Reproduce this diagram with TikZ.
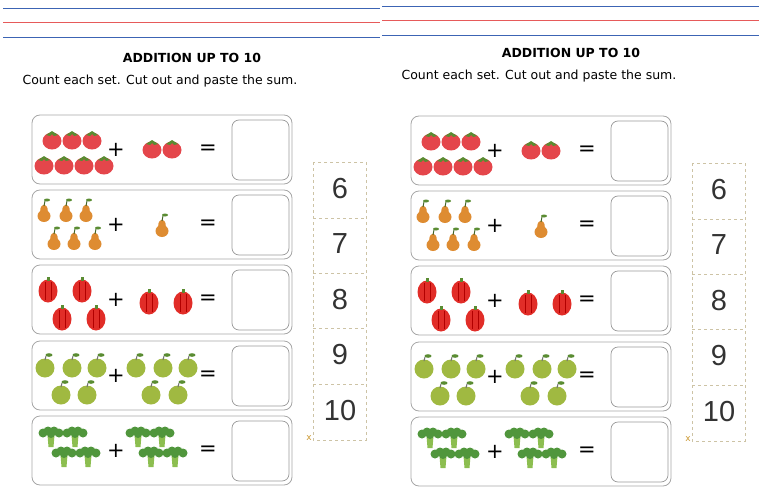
\documentclass[tikz,border=0pt]{standalone}
\usepackage{fontspec}
\setmainfont{DejaVu Sans}
\newfontfamily\numf{Liberation Sans}
\definecolor{lblue}{RGB}{60,100,180}
\definecolor{lred}{RGB}{230,90,90}
\definecolor{tan}{RGB}{205,195,165}
\definecolor{applec}{RGB}{160,185,65}
\definecolor{pearc}{RGB}{222,140,50}
\definecolor{pepc}{RGB}{225,45,40}
\definecolor{tomc}{RGB}{228,70,75}
\definecolor{leaf}{RGB}{90,140,50}
\definecolor{brocc}{RGB}{80,150,60}
\definecolor{stalk}{RGB}{140,190,80}
\begin{document}
\begin{tikzpicture}[x=1pt,y=-1pt,
 rowbox/.style={draw=black!35,line width=0.8pt,rounded corners=8pt},
 ansbox/.style={draw=black!40,line width=0.7pt,rounded corners=7pt},
 sym/.style={font=\fontsize{21}{21}\selectfont},
 num/.style={font=\numf\fontsize{29}{29}\selectfont,text=black!80},
 strip/.style={draw=tan,dashed,line width=0.8pt},
 tomato/.pic={\fill[tomc] (0,0) ellipse (9.5 and 8.5);
   \fill[leaf] (-6,-6) -- (0,-10) -- (6,-6) -- (2,-5) -- (0,-7) -- (-2,-5) -- cycle;},
 pear/.pic={\fill[pearc] (0,4) ellipse (6.5 and 6) (0,-1) ellipse (3.8 and 6.5);
   \draw[leaf!70!black,line width=0.9pt] (0,-6) -- (1,-11); \fill[leaf] (3,-12) ellipse (3 and 1.5);},
 pepper/.pic={\fill[pepc] (0,2) ellipse (9.5 and 11.5);
   \draw[red!70!black,line width=0.4pt] (-3,-7) -- (-3,11) (3,-7) -- (3,11);
   \fill[leaf] (-1.5,-12) rectangle (1.5,-8);},
 apple/.pic={\fill[applec] (0,1) circle (9.5);
   \draw[black!55,line width=1pt] (0,-7) -- (1,-11); \fill[leaf] (4,-12) ellipse (3.5 and 1.8);},
 broc/.pic={\fill[stalk] (-3.5,-2) -- (3.5,-2) -- (2.5,10) -- (-2.5,10) -- cycle;
   \fill[brocc] (-8,-4) circle (4.5) (-3,-6) circle (4.5) (3,-6) circle (4.5) (8,-4) circle (4.5) (0,-3) circle (4);}]
\useasboundingbox (0,0) rectangle (768,503);
\newcommand{\sheet}[5]{%
\begin{scope}[shift={(#1,#2)}]
 \draw[lblue,line width=0.7pt] (3,8) -- (380,8);
 \draw[lred,line width=0.7pt] (3,22) -- (380,22);
 \draw[lblue,line width=0.7pt] (3,37) -- (380,37);
 \node[font=\bfseries\fontsize{12.5}{14}\selectfont] (t#3) at (192,58+#5) {ADDITION UP TO 10};
 \node[anchor=west,font=\fontsize{12.5}{14}\selectfont] (c#3) at (19,81+#5) {Count each set. Cut out and paste the sum.};
 \begin{scope}[yshift=-#4]
 \foreach \y [count=\i] in {115,190,265,341,416}{
   \draw[rowbox] (32,\y) rectangle (292,\y+69);
   \draw[ansbox] (232,\y+5) rectangle (289,\y+65);
   \node[sym] (p#3\i) at (116,\y+35) {+};
   \node[sym] (e#3\i) at (208,\y+35) {=};
 }
 \foreach \x/\y in {52/141,72/141,92/141,44/166,64/166,84/166,104/166,152/150,172/150} \pic at (\x,\y) {tomato};
 \foreach \x/\y in {44/212,66/212,86/212,54/240,74/240,95/240,162/227} \pic at (\x,\y) {pear};
 \foreach \x/\y in {48/289,82/289,62/317,96/317,149/301,183/301} \pic at (\x,\y) {pepper};
 \foreach \x/\y in {45/367,72/367,97/367,61/394,87/394,136/367,163/367,188/367,151/394,178/394} \pic at (\x,\y) {apple};
 \foreach \x/\y in {51/437,75/437,64/457,88/457,138/437,162/437,151/457,175/457} \pic at (\x,\y) {broc};
 \draw[strip] (313,162) rectangle (366,440);
 \foreach \y in {218,273,328,384} \draw[strip] (313,\y) -- (366,\y);
 \foreach \n/\y [count=\k] in {6/189,7/244,8/300,9/355,10/411} \node[num] (n#3\k) at (340,\y) {\n};
 \node[font=\fontsize{9}{9}\selectfont,text=brown!80!yellow] (s#3) at (309,438) {x};
 \end{scope}
\end{scope}}
\sheet{0}{0}{L}{0pt}{0}
\sheet{379}{-2}{R}{3pt}{-3}
\end{tikzpicture}
\end{document}
